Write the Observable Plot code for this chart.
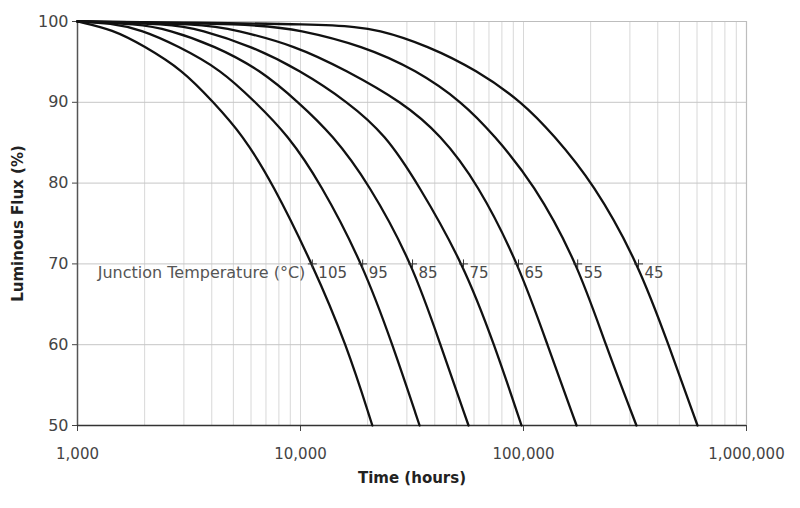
<!DOCTYPE html>
<html>
<head>
<meta charset="utf-8">
<script src="https://cdn.jsdelivr.net/npm/d3@7"></script>
<script src="https://cdn.jsdelivr.net/npm/@observablehq/plot@0.6"></script>
<style>
  html, body { margin: 0; padding: 0; background: #fff; }
  #chart svg { display: block; }
</style>
</head>
<body>
<div id="chart"></div>
<script>
// Junction temperatures (°C)
const temperatures = [105, 95, 85, 75, 65, 55, 45];

// Time (hours) vs luminous flux (%) for each junction temperature
const hours105 = [1000, 1440, 1980, 2960, 4070, 5490, 7490, 11300, 16100, 21000];
const flux105  = [100, 99, 97, 94, 90, 86, 80, 70, 60, 50];

const hours95 = [1000, 1410, 1920, 2810, 4420, 6280, 8740, 12300, 19000, 25900, 34200];
const flux95  = [100, 99.8, 99, 97, 94, 90, 86, 80, 70, 60, 50];

const hours85 = [1000, 1860, 2560, 4120, 6620, 9800, 13900, 20200, 31800, 42400, 56700];
const flux85  = [100, 99.7, 99, 97, 94, 90, 86, 80, 70, 60, 50];

const hours75 = [1000, 2610, 3560, 5970, 9900, 16400, 24000, 33500, 53800, 74100, 98000];
const flux75  = [100, 99.7, 99, 97, 94, 90, 86, 80, 70, 60, 50];

const hours65 = [1000, 3670, 5060, 9500, 15900, 28700, 42400, 62200, 95000, 128000, 173000];
const flux65  = [100, 99.7, 99, 97, 94, 90, 86, 80, 70, 60, 50];

const hours55 = [1000, 6280, 9800, 19000, 33100, 53300, 73400, 111000, 175000, 233000, 321000];
const flux55  = [100, 99.7, 99, 97, 94, 90, 86, 80, 70, 60, 50];

const hours45 = [1000, 14700, 22600, 37100, 61600, 99000, 136000, 206000, 328000, 447000, 603000];
const flux45  = [100, 99.7, 99, 97, 94, 90, 86, 80, 70, 60, 50];

// Axis ticks
const xTicks = [1000, 10000, 100000, 1000000];
const yTicks = [50, 60, 70, 80, 90, 100];
const labelFlux = 70;

const seriesHours = [hours105, hours95, hours85, hours75, hours65, hours55, hours45];
const seriesFlux = [flux105, flux95, flux85, flux75, flux65, flux55, flux45];

const lineData = temperatures.flatMap((temp, k) =>
  seriesHours[k].map((h, i) => ({temp, hours: h, flux: seriesFlux[k][i]})));

const at70 = temperatures.map((temp, k) =>
  ({temp, hours: seriesHours[k][seriesFlux[k].indexOf(labelFlux)], flux: labelFlux}));

// Log grid: 1..9 × each decade
const gridX = [];
for (let e = 3; e < 6; e++) for (let m = 1; m <= 9; m++) gridX.push(m * Math.pow(10, e));
gridX.push(1000000);

const chart = Plot.plot({
  width: 800,
  height: 508,
  marginLeft: 77,
  marginRight: 54,
  marginTop: 21,
  marginBottom: 83,
  style: {fontFamily: "'DejaVu Sans', Verdana, sans-serif", fontSize: "15px", background: "#fff", color: "#444"},
  x: {type: "log", domain: [1000, 1000000], label: null},
  y: {domain: [50, 100], label: null},
  marks: [
    Plot.ruleX(gridX, {stroke: "#d8d8d8", strokeWidth: 1}),
    Plot.ruleY(yTicks.filter(d => d > 50 && d < 100), {stroke: "#c6c6c6", strokeWidth: 1}),
    Plot.ruleY([100], {stroke: "#bdbdbd", strokeWidth: 1.2}),
    Plot.ruleX([1000000], {stroke: "#bdbdbd", strokeWidth: 1.2}),
    Plot.axisY({ticks: yTicks, tickSize: 5, tickPadding: 4, fontSize: 16, color: "#444"}),
    Plot.axisX({ticks: xTicks, tickFormat: d3.format(","), tickSize: 6, tickPadding: 17, fontSize: 15, color: "#444"}),
    Plot.ruleX([1000], {stroke: "#555", strokeWidth: 1.5}),
    Plot.ruleY([50], {stroke: "#333", strokeWidth: 1.5}),
    Plot.line(lineData, {x: "hours", y: "flux", z: "temp", stroke: "#111", strokeWidth: 2.3, curve: "basis"}),
    Plot.dot(at70, {x: "hours", y: "flux", symbol: "plus", r: 3, stroke: "#333", strokeWidth: 1}),
    Plot.text(at70, {x: "hours", y: "flux", text: d => String(d.temp), dx: 6, dy: 9, textAnchor: "start", fill: "#4a4a4a", fontSize: 15}),
    Plot.text([at70[0]], {x: "hours", y: "flux", text: () => "Junction Temperature (°C)", dx: -7, dy: 9, textAnchor: "end", fill: "#555", fontSize: 16}),
    Plot.text(["Time (hours)"], {frameAnchor: "bottom", dy: 57, text: d => d, textAnchor: "middle", fontWeight: "bold", fontSize: 15, fill: "#222"}),
    Plot.text(["Luminous Flux (%)"], {frameAnchor: "left", dx: -59, rotate: -90, text: d => d, textAnchor: "middle", fontWeight: "bold", fontSize: 15, fill: "#222"})
  ]
});

document.getElementById("chart").appendChild(chart);
</script>
</body>
</html>
